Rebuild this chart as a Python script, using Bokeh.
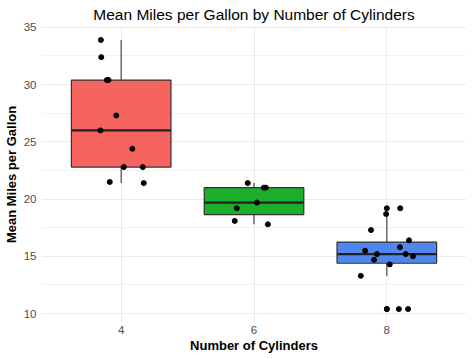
from bokeh.plotting import figure
from bokeh.models import FixedTicker, ColumnDataSource, Range1d
from bokeh.embed import file_html
from bokeh.resources import INLINE

# categories
cyl_labels = ["4", "6", "8"]
cyl_pos = [1, 2, 3]
box_colors = ["#F5645F", "#1DAF2B", "#5087EE"]

# box statistics
q1 = [22.8, 18.65, 14.4]
med = [26.0, 19.7, 15.2]
q3 = [30.4, 21.0, 16.25]
whisk_lo = [21.4, 17.8, 13.3]
whisk_hi = [33.9, 21.4, 18.7]

# outliers (drawn at box centre)
out_cat = [3, 3, 3]
out_mpg = [19.2, 10.4, 10.4]

# jittered points
pts4_mpg = [33.9, 32.4, 30.4, 30.4, 27.3, 26.0, 24.4, 22.8, 22.8, 21.5, 21.4]
pts4_off = [-0.153, -0.150, -0.108, -0.096, -0.037, -0.156, 0.084, 0.020, 0.163, -0.086, 0.170]
pts6_mpg = [21.4, 21.0, 21.0, 19.7, 19.2, 18.1, 17.8]
pts6_off = [-0.047, 0.074, 0.089, 0.022, -0.130, -0.145, 0.104]
pts8_mpg = [19.2, 18.7, 17.3, 16.4, 15.8, 15.5, 15.2, 15.2, 15.0, 14.7, 14.3, 13.3, 10.4, 10.4]
pts8_off = [0.101, -0.005, -0.119, 0.167, 0.099, -0.163, 0.143, -0.074, 0.197, -0.096, 0.022, -0.196, 0.091, 0.160]

y_ticks = [10, 15, 20, 25, 30, 35]
y_minor = [12.5, 17.5, 22.5, 27.5, 32.5]

FONT = "Liberation Sans"
box_w = 0.75

p = figure(frame_width=425, frame_height=296, output_backend="svg", toolbar_location=None,
           x_range=Range1d(0.4, 3.6), y_range=Range1d(9.225, 35.075),
           title="Mean Miles per Gallon by Number of Cylinders",
           min_border_left=0, min_border_right=0, min_border_top=0, min_border_bottom=0)
p.outline_line_color = None
p.background_fill_color = "white"
p.border_fill_color = "white"

p.title.text_font = FONT
p.title.text_font_size = "15.5px"
p.title.text_font_style = "normal"
p.title.text_color = "black"
p.title.align = "center"
p.title.standoff = 7

for ax in (p.xaxis[0], p.yaxis[0]):
    ax.axis_line_color = None
    ax.major_tick_line_color = None
    ax.minor_tick_line_color = None
    ax.major_tick_out = 0
    ax.major_tick_in = 0
    ax.minor_tick_out = 0
    ax.minor_tick_in = 0
    ax.major_label_text_font = FONT
    ax.major_label_text_font_size = "11.5px"
    ax.major_label_text_color = "#4D4D4D"
    ax.axis_label_text_font = FONT
    ax.axis_label_text_font_size = "13px"
    ax.axis_label_text_font_style = "bold"
    ax.axis_label_text_color = "black"
    ax.major_label_standoff = 5
    ax.axis_label_standoff = 2

p.xaxis[0].major_label_standoff = 3
p.xaxis[0].axis_label_standoff = 1

p.xaxis.axis_label = "Number of Cylinders"
p.yaxis.axis_label = "Mean Miles per Gallon"
p.xaxis.ticker = FixedTicker(ticks=cyl_pos)
p.xaxis.major_label_overrides = {pos: lab for pos, lab in zip(cyl_pos, cyl_labels)}
p.yaxis.ticker = FixedTicker(ticks=y_ticks, minor_ticks=y_minor)

p.xgrid.grid_line_color = "#EBEBEB"
p.xgrid.grid_line_width = 1
p.ygrid.grid_line_color = "#EBEBEB"
p.ygrid.grid_line_width = 1
p.ygrid.minor_grid_line_color = "#F2F2F2"
p.ygrid.minor_grid_line_width = 1

src = ColumnDataSource(dict(x=cyl_pos, q1=q1, med=med, q3=q3, lo=whisk_lo, hi=whisk_hi,
                            color=box_colors))

p.segment(x0="x", y0="q3", x1="x", y1="hi", source=src, line_color="#555555", line_width=1.3)
p.segment(x0="x", y0="q1", x1="x", y1="lo", source=src, line_color="#555555", line_width=1.3)
p.vbar(x="x", width=box_w, bottom="q1", top="q3", source=src, fill_color="color",
       line_color="#333333", line_width=1.2)
p.segment(x0=[c - box_w / 2 for c in cyl_pos], y0=med, x1=[c + box_w / 2 for c in cyl_pos],
          y1=med, line_color="#222222", line_width=2.2)

p.scatter(out_cat, out_mpg, size=5, color="black")
for c, mpg, off in ((1, pts4_mpg, pts4_off), (2, pts6_mpg, pts6_off), (3, pts8_mpg, pts8_off)):
    xs = [c + o for o in off]
    p.scatter(xs, mpg, size=5, color="black")

open("out.html", "w").write(file_html(p, INLINE))
